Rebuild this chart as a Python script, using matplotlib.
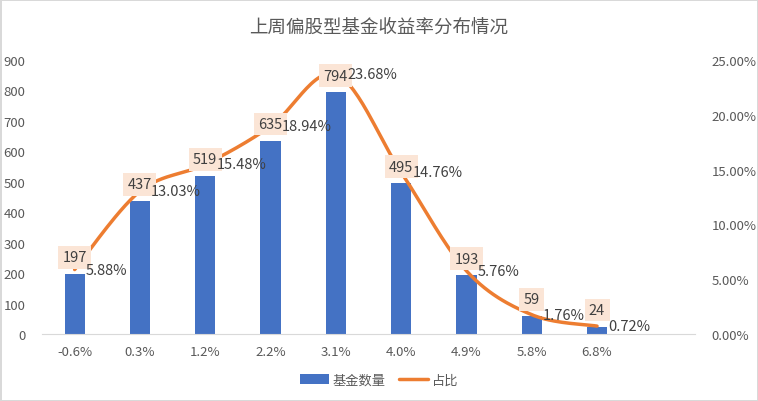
import numpy as np
import matplotlib.pyplot as plt
from matplotlib.ticker import FuncFormatter, MultipleLocator

plt.rcParams['font.family'] = ['Noto Sans CJK SC', 'DejaVu Sans']

# data
categories = ['-0.6%', '0.3%', '1.2%', '2.2%', '3.1%', '4.0%', '4.9%', '5.8%', '6.8%']
counts = [197, 437, 519, 635, 794, 495, 193, 59, 24]
shares = [5.88, 13.03, 15.48, 18.94, 23.68, 14.76, 5.76, 1.76, 0.72]

text_c = '#595959'
label_c = '#404040'
blue = '#4472C4'
orange = '#ED7D31'

fig = plt.figure(figsize=(7.58, 4.02), dpi=100)
fig.patch.set_edgecolor('#D9D9D9')
fig.patch.set_linewidth(2)
ax = fig.add_axes([42 / 758, 1 - 335 / 402, (695 - 42) / 758, (335 - 61) / 402])
ax2 = ax.twinx()

x = np.arange(len(categories))
bars = ax.bar(x, counts, width=0.31, color=blue, zorder=2, label='基金数量')

# smoothed line (bezier through the data points, like Excel's smooth line)
p = np.array(list(zip(x, shares)), dtype=float)
xs, ys = [], []
t = np.linspace(0, 1, 30)
for i in range(len(p) - 1):
    p0 = p[max(i - 1, 0)]
    p1 = p[i]
    p2 = p[i + 1]
    p3 = p[min(i + 2, len(p) - 1)]
    c1 = p1 + (p2 - p0) / 6
    c2 = p2 - (p3 - p1) / 6
    seg = ((1 - t) ** 3)[:, None] * p1 + (3 * (1 - t) ** 2 * t)[:, None] * c1 \
        + (3 * (1 - t) * t ** 2)[:, None] * c2 + (t ** 3)[:, None] * p2
    xs.extend(seg[:, 0])
    ys.extend(seg[:, 1])
line, = ax2.plot(xs, ys, color=orange, lw=2.5, zorder=3, label='占比',
                 solid_capstyle='round')

ax.set_xlim(-0.5, len(categories) + 0.5)
ax.set_ylim(0, 900)
ax2.set_ylim(0, 25)
ax.yaxis.set_major_locator(MultipleLocator(100))
ax2.yaxis.set_major_locator(MultipleLocator(5))
ax2.yaxis.set_major_formatter(FuncFormatter(lambda v, _: f'{v:.2f}%'))
ax.set_xticks(x)
ax.set_xticklabels(categories)

for a in (ax, ax2):
    for s in a.spines.values():
        s.set_visible(False)
    a.tick_params(length=0, colors=text_c, labelsize=9.5)
ax.spines['bottom'].set_visible(True)
ax.spines['bottom'].set_color('#D9D9D9')
ax.tick_params(axis='x', pad=8)
ax.tick_params(axis='y', pad=12)
ax2.tick_params(axis='y', pad=12)

ax2.set_zorder(ax.get_zorder() + 1)
ax2.patch.set_visible(False)

for xi, c in zip(x, counts):
    ax2.annotate(str(c), xy=(xi, c / 900 * 25), xytext=(0, 12), textcoords='offset points',
                 ha='center', va='center', fontsize=10.5, color=label_c, zorder=5,
                 bbox=dict(boxstyle='square,pad=0.3', fc='#FBE5D6', ec='none'))
for xi, s in zip(x, shares):
    ax2.annotate(f'{s:.2f}%', xy=(xi, s), xytext=(8, 0), textcoords='offset points',
                 ha='left', va='center', fontsize=10.5, color=label_c, zorder=5)

fig.text(0.5, 1 - 28 / 402, '上周偏股型基金收益率分布情况', ha='center', va='center',
         fontsize=13.3, color=text_c)

fig.legend([bars, line], ['基金数量', '占比'], loc='center', bbox_to_anchor=(0.5, 1 - 381 / 402),
           ncol=2, frameon=False, fontsize=9.5, labelcolor=text_c, handlelength=2.2,
           columnspacing=1.0, handletextpad=0.3)

fig.savefig('out.png', dpi=100)
